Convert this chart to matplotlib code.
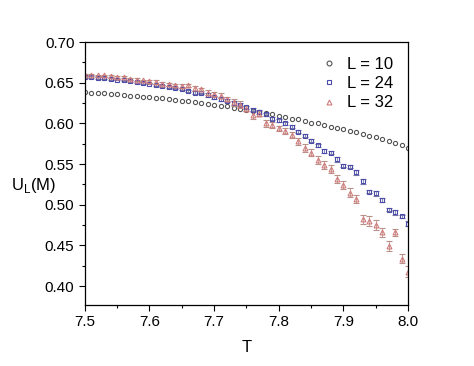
import numpy as np
import matplotlib
matplotlib.use("Agg")
import matplotlib.pyplot as plt
from matplotlib.ticker import MultipleLocator
from matplotlib.lines import Line2D

plt.rcParams["font.family"] = ["Liberation Sans", "DejaVu Sans"]

#
# Data
#
T = [7.50, 7.51, 7.52, 7.53, 7.54, 7.55, 7.56, 7.57, 7.58, 7.59,
     7.60, 7.61, 7.62, 7.63, 7.64, 7.65, 7.66, 7.67, 7.68, 7.69,
     7.70, 7.71, 7.72, 7.73, 7.74, 7.75, 7.76, 7.77, 7.78, 7.79,
     7.80, 7.81, 7.82, 7.83, 7.84, 7.85, 7.86, 7.87, 7.88, 7.89,
     7.90, 7.91, 7.92, 7.93, 7.94, 7.95, 7.96, 7.97, 7.98, 7.99, 8.00]

u_L10 = [0.639, 0.638, 0.638, 0.637, 0.636, 0.636, 0.635, 0.634, 0.634, 0.633,
         0.632, 0.631, 0.631, 0.630, 0.629, 0.628, 0.627, 0.626, 0.625, 0.624,
         0.623, 0.622, 0.621, 0.619, 0.618, 0.617, 0.615, 0.614, 0.613, 0.611,
         0.609, 0.608, 0.606, 0.605, 0.603, 0.601, 0.600, 0.598, 0.596, 0.594,
         0.593, 0.591, 0.589, 0.587, 0.585, 0.583, 0.581, 0.578, 0.576, 0.573, 0.570]

u_L24 = [0.657, 0.657, 0.656, 0.656, 0.655, 0.654, 0.653, 0.652, 0.651, 0.650,
         0.649, 0.647, 0.646, 0.645, 0.643, 0.642, 0.640, 0.638, 0.637, 0.635,
         0.632, 0.630, 0.628, 0.625, 0.623, 0.620, 0.617, 0.614, 0.611, 0.606,
         0.604, 0.600, 0.596, 0.590, 0.585, 0.579, 0.573, 0.566, 0.564, 0.556,
         0.548, 0.547, 0.540, 0.529, 0.516, 0.514, 0.506, 0.494, 0.491, 0.486, 0.477]

u_L32 = [0.660, 0.660, 0.659, 0.659, 0.658, 0.657, 0.657, 0.655, 0.654, 0.653,
         0.652, 0.651, 0.649, 0.648, 0.647, 0.646, 0.647, 0.643, 0.642, 0.638,
         0.636, 0.634, 0.630, 0.626, 0.623, 0.618, 0.610, 0.612, 0.600, 0.598,
         0.594, 0.591, 0.586, 0.578, 0.570, 0.564, 0.555, 0.549, 0.544, 0.532,
         0.524, 0.515, 0.507, 0.482, 0.480, 0.475, 0.466, 0.449, 0.466, 0.434, 0.418]

err_L24 = [0.001, 0.001, 0.001, 0.001, 0.001, 0.001, 0.001, 0.001, 0.001, 0.001,
           0.001, 0.001, 0.001, 0.001, 0.001, 0.001, 0.001, 0.002, 0.001, 0.002,
           0.002, 0.002, 0.002, 0.002, 0.002, 0.002, 0.002, 0.002, 0.002, 0.002,
           0.002, 0.002, 0.002, 0.002, 0.002, 0.002, 0.002, 0.002, 0.002, 0.003,
           0.002, 0.002, 0.003, 0.003, 0.002, 0.003, 0.002, 0.002, 0.003, 0.002, 0.003]

err_L32 = [0.001, 0.001, 0.001, 0.001, 0.001, 0.001, 0.001, 0.001, 0.002, 0.001,
           0.002, 0.002, 0.002, 0.002, 0.002, 0.002, 0.002, 0.003, 0.002, 0.003,
           0.003, 0.003, 0.003, 0.004, 0.004, 0.003, 0.004, 0.003, 0.004, 0.004,
           0.003, 0.004, 0.004, 0.004, 0.005, 0.004, 0.005, 0.005, 0.005, 0.005,
           0.005, 0.006, 0.005, 0.006, 0.006, 0.006, 0.006, 0.006, 0.004, 0.006, 0.007]

labels = ["L = 10", "L = 24", "L = 32"]
colours = ["#555555", "#4a4aa8", "#d07a7a"]
markers = ["o", "s", "^"]


#
# Plot
#
fig = plt.figure(figsize=(4.74, 3.66), dpi=100)
ax = fig.add_axes([0.179, 0.167, 0.682, 0.718])

ax.plot(T, u_L10, linestyle="none", marker=markers[0], markersize=3,
        markerfacecolor="none", markeredgecolor=colours[0], markeredgewidth=0.8)
ax.errorbar(T, u_L24, yerr=err_L24, linestyle="none", marker=markers[1], markersize=3,
            markerfacecolor="none", markeredgecolor=colours[1], markeredgewidth=0.8,
            ecolor="#7878a8", elinewidth=0.6, capsize=2, capthick=0.6)
ax.errorbar(T, u_L32, yerr=err_L32, linestyle="none", marker=markers[2], markersize=3.5,
            markerfacecolor="none", markeredgecolor=colours[2], markeredgewidth=0.8,
            ecolor="#b89088", elinewidth=0.6, capsize=2, capthick=0.6)

ax.set_xlim(7.5, 8.0)
ax.set_ylim(0.377, 0.70)
ax.xaxis.set_major_locator(MultipleLocator(0.1))
ax.xaxis.set_minor_locator(MultipleLocator(0.05))
ax.yaxis.set_major_locator(MultipleLocator(0.05))
ax.yaxis.set_minor_locator(MultipleLocator(0.025))
ax.xaxis.set_major_formatter(plt.FormatStrFormatter("%.1f"))
ax.yaxis.set_major_formatter(plt.FormatStrFormatter("%.2f"))
ax.tick_params(which="both", direction="out", top=False, right=False, labelsize=11)
ax.tick_params(which="major", length=4, width=0.8)
ax.tick_params(which="minor", length=2.5, width=0.8)
for s in ax.spines.values():
    s.set_linewidth(0.9)

ax.set_xlabel("T", fontsize=12, labelpad=8)
ax.set_ylabel(r"U$_\mathregular{L}$(M)", fontsize=12, rotation=0, ha="center", va="center")
ax.yaxis.set_label_coords(-0.16, 0.455)

handles = [Line2D([], [], linestyle="none", marker=m, markersize=3.5,
                  markerfacecolor="none", markeredgecolor=c, markeredgewidth=0.8)
           for m, c in zip(markers, colours)]
ax.legend(handles, labels, loc="upper right", frameon=False, fontsize=12,
          handletextpad=0.5, borderaxespad=0.5, labelspacing=0.25, handlelength=1.2)

fig.savefig("out.png", dpi=100)
